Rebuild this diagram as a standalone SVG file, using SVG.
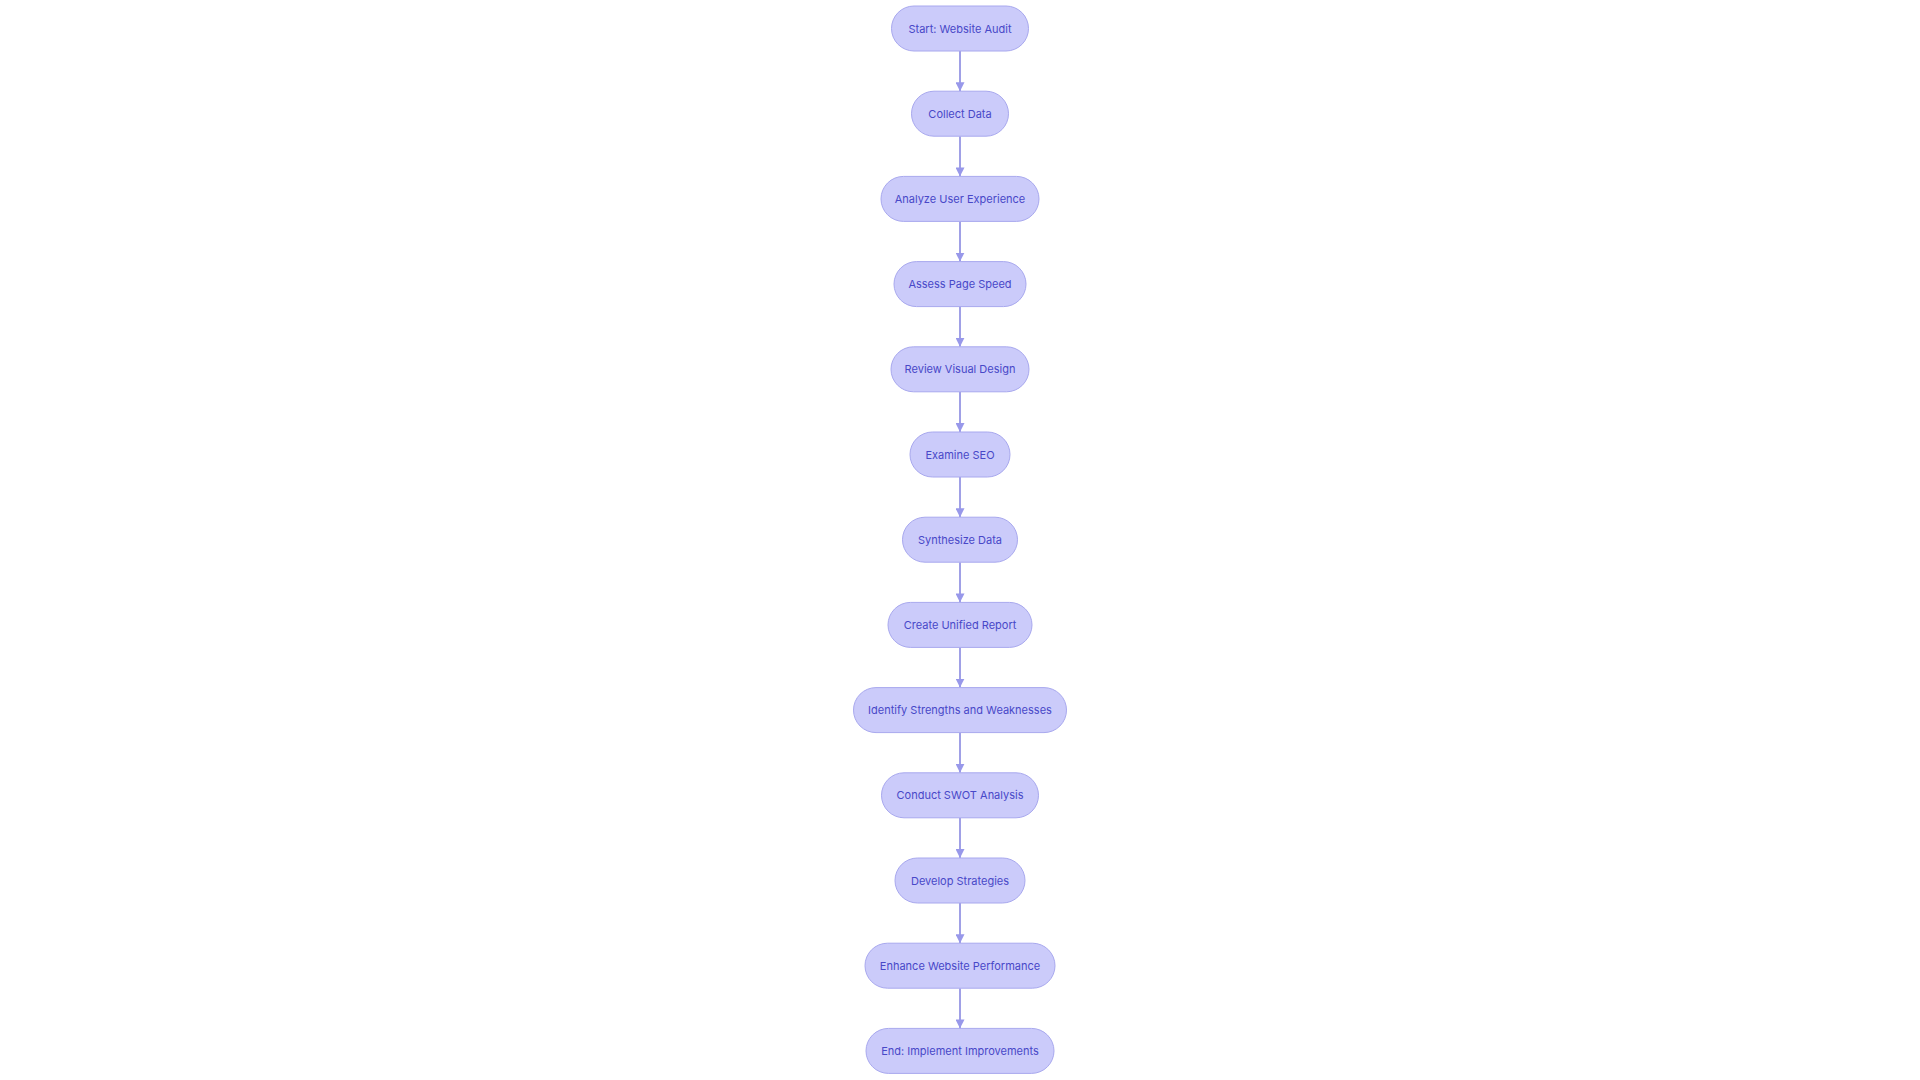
<svg xmlns="http://www.w3.org/2000/svg" width="1920" height="1080" viewBox="0 0 1920 1080">
<style>
.node rect{fill:#cbcbfa;stroke:#a8a8ee;stroke-width:1}
.node text{font-family:Inter,"Open Sans","DejaVu Sans",sans-serif;font-size:11px;font-weight:400;fill:#4848c8;text-anchor:middle;dominant-baseline:central}
.edge{stroke:#a0a0e6;stroke-width:2;fill:none;marker-end:url(#arrow)}
</style>
<defs>
<marker id="arrow" viewBox="0 0 10 10" refX="10" refY="5" markerWidth="4.5" markerHeight="4.5" markerUnits="strokeWidth" orient="auto">
<path d="M0,0 L10,5 L0,10 z" fill="#9898ea"/>
</marker>
</defs>
<rect width="1920" height="1080" fill="#ffffff"/>
<g id="connectors">
<line class="edge" x1="960" y1="51" x2="960" y2="91.2"/>
<line class="edge" x1="960" y1="136.2" x2="960" y2="176.4"/>
<line class="edge" x1="960" y1="221.4" x2="960" y2="261.6"/>
<line class="edge" x1="960" y1="306.6" x2="960" y2="346.8"/>
<line class="edge" x1="960" y1="391.8" x2="960" y2="432"/>
<line class="edge" x1="960" y1="477" x2="960" y2="517.2"/>
<line class="edge" x1="960" y1="562.2" x2="960" y2="602.4"/>
<line class="edge" x1="960" y1="647.4" x2="960" y2="687.6"/>
<line class="edge" x1="960" y1="732.6" x2="960" y2="772.8"/>
<line class="edge" x1="960" y1="817.8" x2="960" y2="858"/>
<line class="edge" x1="960" y1="903" x2="960" y2="943.2"/>
<line class="edge" x1="960" y1="988.2" x2="960" y2="1028.4"/>
</g>
<g id="n1" class="node"><rect x="891.5" y="6" width="137" height="45" rx="22.5"/><text x="960" y="28.5">Start: Website Audit</text></g>
<g id="n2" class="node"><rect x="911.5" y="91.2" width="97" height="45" rx="22.5"/><text x="960" y="113.7">Collect Data</text></g>
<g id="n3" class="node"><rect x="881" y="176.4" width="158" height="45" rx="22.5"/><text x="960" y="198.9">Analyze User Experience</text></g>
<g id="n4" class="node"><rect x="894" y="261.6" width="132" height="45" rx="22.5"/><text x="960" y="284.1">Assess Page Speed</text></g>
<g id="n5" class="node"><rect x="891" y="346.8" width="138" height="45" rx="22.5"/><text x="960" y="369.3">Review Visual Design</text></g>
<g id="n6" class="node"><rect x="910" y="432" width="100" height="45" rx="22.5"/><text x="960" y="454.5">Examine SEO</text></g>
<g id="n7" class="node"><rect x="902.5" y="517.2" width="115" height="45" rx="22.5"/><text x="960" y="539.7">Synthesize Data</text></g>
<g id="n8" class="node"><rect x="888" y="602.4" width="144" height="45" rx="22.5"/><text x="960" y="624.9">Create Unified Report</text></g>
<g id="n9" class="node"><rect x="853.5" y="687.6" width="213" height="45" rx="22.5"/><text x="960" y="710.1">Identify Strengths and Weaknesses</text></g>
<g id="n10" class="node"><rect x="881.5" y="772.8" width="157" height="45" rx="22.5"/><text x="960" y="795.3">Conduct SWOT Analysis</text></g>
<g id="n11" class="node"><rect x="895" y="858" width="130" height="45" rx="22.5"/><text x="960" y="880.5">Develop Strategies</text></g>
<g id="n12" class="node"><rect x="865" y="943.2" width="190" height="45" rx="22.5"/><text x="960" y="965.7">Enhance Website Performance</text></g>
<g id="n13" class="node"><rect x="866" y="1028.4" width="188" height="45" rx="22.5"/><text x="960" y="1050.9">End: Implement Improvements</text></g>
</svg>
